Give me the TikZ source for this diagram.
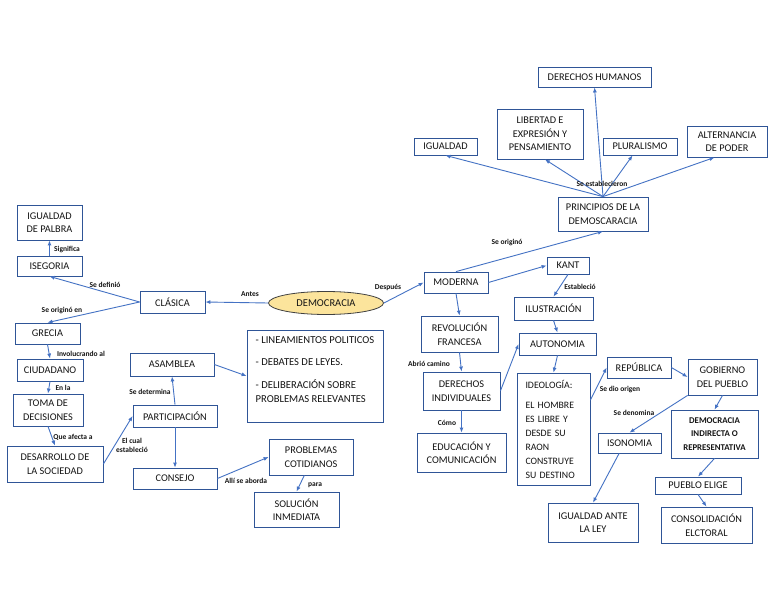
\documentclass[tikz,border=0pt]{standalone}
\usepackage{fontspec}
\setmainfont{Carlito}
\usepackage{tikz}
\usetikzlibrary{arrows.meta,shapes.geometric}
\definecolor{boxblue}{RGB}{47,85,151}
\definecolor{lineblue}{RGB}{68,114,196}
\definecolor{inkgray}{RGB}{20,20,20}
\definecolor{demofill}{RGB}{252,228,156}
\tikzset{
  box/.style={draw=boxblue, line width=0.8pt, align=center, text=inkgray,
              font=\fontsize{10.3}{13.5}\selectfont, inner sep=1pt},
  small/.style={box, font=\fontsize{9.8}{14}\selectfont},
  core/.style={ellipse, draw=black!75, fill=demofill, line width=0.8pt, text=inkgray,
               font=\fontsize{10.5}{12}\selectfont, inner sep=0pt},
  flow/.style={-{Latex[length=5pt, width=4pt]}, draw=lineblue, line width=0.9pt},
  lbl/.style={font=\fontsize{7.5}{9}\selectfont\bfseries, text=inkgray,
              inner sep=0pt, align=center},
}

\begin{document}
\begin{tikzpicture}[x=1pt, y=-1pt]
  \useasboundingbox (0,0) rectangle (768,594);
  \fill[white] (0,0) rectangle (768,594);

  % centre
  \node[core, minimum width=115pt, minimum height=23pt] (demo) at (326,303) {DEMOCRACIA};

  % left branch
  \node[box, minimum width=65pt, minimum height=22pt] (cla) at (172.5,302) {CLÁSICA};
  \node[box, minimum width=65pt, minimum height=35pt] (igp) at (49.5,222.5) {IGUALDAD\\DE PALBRA};
  \node[box, minimum width=65pt, minimum height=20pt] (ise) at (49.5,266) {ISEGORIA};
  \node[box, minimum width=65pt, minimum height=21pt] (gre) at (47.5,333.5) {GRECIA};
  \node[box, minimum width=66pt, minimum height=22pt] (ciu) at (50,370) {CIUDADANO};
  \node[box, minimum width=70pt, minimum height=32pt] (toma) at (48,410) {TOMA DE\\DECISIONES};
  \node[box, minimum width=96pt, minimum height=36pt] (des) at (55,464) {DESARROLLO DE\\LA SOCIEDAD};
  \node[box, minimum width=84pt, minimum height=23pt] (asa) at (172,364.5) {ASAMBLEA};
  \node[box, minimum width=84pt, minimum height=22pt] (par) at (175,416) {PARTICIPACIÓN};
  \node[box, minimum width=84pt, minimum height=21pt] (con) at (175,478.5) {CONSEJO};
  \node[box, align=left, inner xsep=5pt, minimum width=136pt, minimum height=92pt,
        font=\fontsize{10.6}{14}\selectfont] (list) at (315,376)
    {- LINEAMIENTOS POLITICOS\\[8pt] - DEBATES DE LEYES.\\[9pt]
     - DELIBERACIÓN SOBRE\\ PROBLEMAS RELEVANTES\rule[-12pt]{0pt}{1pt}};
  \node[box, minimum width=84pt, minimum height=36pt] (pro) at (311,457) {PROBLEMAS\\COTIDIANOS};
  \node[box, minimum width=85pt, minimum height=35pt] (sol) at (296.5,509.5) {SOLUCIÓN\\INMEDIATA};

  % right branch
  \node[box, minimum width=64pt, minimum height=21pt] (mod) at (456,282.5) {MODERNA};
  \node[box, minimum width=90pt, minimum height=34pt] (pri) at (603,214) {PRINCIPIOS DE LA\\DEMOSCARACIA};
  \node[box, minimum width=113pt, minimum height=20pt] (dh) at (594.5,77) {DERECHOS HUMANOS};
  \node[box, minimum width=86pt, minimum height=50pt] (lib) at (540,134) {LIBERTAD E\\EXPRESIÓN Y\\PENSAMIENTO};
  \node[box, minimum width=63pt, minimum height=17pt] (igu) at (445.5,146.5) {IGUALDAD};
  \node[box, minimum width=74pt, minimum height=17pt] (plu) at (640,146.5) {PLURALISMO};
  \node[box, minimum width=80pt, minimum height=31pt] (alt) at (727,141.5) {ALTERNANCIA\\DE PODER};
  \node[box, minimum width=42pt, minimum height=17pt] (kant) at (568,265.5) {KANT};
  \node[box, minimum width=79pt, minimum height=23pt] (ilu) at (553.5,308.5) {ILUSTRACIÓN};
  \node[box, minimum width=77pt, minimum height=36pt] (rev) at (459.5,334) {REVOLUCIÓN\\FRANCESA};
  \node[box, minimum width=77pt, minimum height=22pt] (aut) at (557.5,344) {AUTONOMIA};
  \node[box, minimum width=77pt, minimum height=38pt] (der) at (461.5,391) {DERECHOS\\INDIVIDUALES};
  \node[box, minimum width=89pt, minimum height=39pt] (edu) at (461.5,452.5) {EDUCACIÓN Y\\COMUNICACIÓN};
  \node[small, align=left, text width=56pt, inner xsep=8.5pt, minimum height=112pt] (ide) at (553.5,429)
    {IDEOLOGÍA:\\[6pt] EL HOMBRE\\ ES LIBRE Y\\ DESDE SU\\ RAON\\ CONSTRUYE\\ SU DESTINO};
  \node[box, minimum width=64pt, minimum height=21pt] (rep) at (639,367.5) {REPÚBLICA};
  \node[box, minimum width=69pt, minimum height=36pt] (gob) at (722.5,377) {GOBIERNO\\DEL PUEBLO};
  \node[box, minimum width=87pt, minimum height=48pt, font=\fontsize{8.8}{13.5}\selectfont\bfseries]
    (dem) at (714.5,434) {DEMOCRACIA\\INDIRECTA O\\REPRESENTATIVA};
  \node[box, minimum width=63pt, minimum height=20pt] (iso) at (629.5,443) {ISONOMIA};
  \node[box, minimum width=86pt, minimum height=17pt] (pue) at (698,485.5) {PUEBLO ELIGE};
  \node[box, minimum width=90pt, minimum height=39pt] (igl) at (593,522.5) {IGUALDAD ANTE\\LA LEY};
  \node[box, minimum width=91pt, minimum height=36pt] (cons) at (706.5,525) {CONSOLIDACIÓN\\ELCTORAL};

  % connectors
  \foreach \a/\b in {demo.west/cla.east, demo.east/mod.west,
      cla.west/ise.south, cla.west/gre.north, ise.north/igp.south,
      gre.south/ciu.north, ciu.south/toma.north, toma.south/des.north,
      des.east/par.west, par.north/asa.south, par.south/con.north,
      asa.east/list.west, con.east/pro.west, pro.250/sol.north,
      mod.north/pri.south, pri.north/igu.south, pri.north/lib.281,
      pri.north/dh.south, pri.north/plu.230, pri.north/alt.232,
      mod.east/kant.west, kant.south/ilu.north, mod.south/rev.north,
      rev.south/der.north, der.south/edu.north, der.east/aut.west,
      ilu.south/aut.north, aut.south/ide.north, ide.38/rep.west,
      rep.east/gob.west, gob.south/dem.north, gob.south west/iso.north,
      iso.225/igl.north, dem.south/pue.north, pue.south/cons.north}
    \draw[flow] (\a) -- (\b);

  % connector labels
  \node[lbl] (l1) at (250,294) {Antes};
  \node[lbl] (l2) at (388,287) {Después};
  \node[lbl] (l3) at (105,285) {Se definió};
  \node[lbl] (l4) at (62,311) {Se originó en};
  \node[lbl] (l5) at (67,249) {Significa};
  \node[lbl] (l6) at (81,354) {Involucrando al};
  \node[lbl] (l7) at (63,388) {En la};
  \node[lbl] (l8) at (73,437) {Que afecta a};
  \node[lbl] (l9) at (132,445) {El cual\\estableció};
  \node[lbl] (l10) at (150,392) {Se determina};
  \node[lbl] (l11) at (246,481) {Allí se aborda};
  \node[lbl] (l12) at (315,485) {para};
  \node[lbl] (l13) at (602,184) {Se establecieron};
  \node[lbl] (l14) at (507,243) {Se originó};
  \node[lbl] (l15) at (580,287) {Estableció};
  \node[lbl] (l16) at (429,364) {Abrió camino};
  \node[lbl] (l17) at (447,423) {Cómo};
  \node[lbl] (l18) at (620,390) {Se dio origen};
  \node[lbl] (l19) at (634,413) {Se denomina};
\end{tikzpicture}
\end{document}
